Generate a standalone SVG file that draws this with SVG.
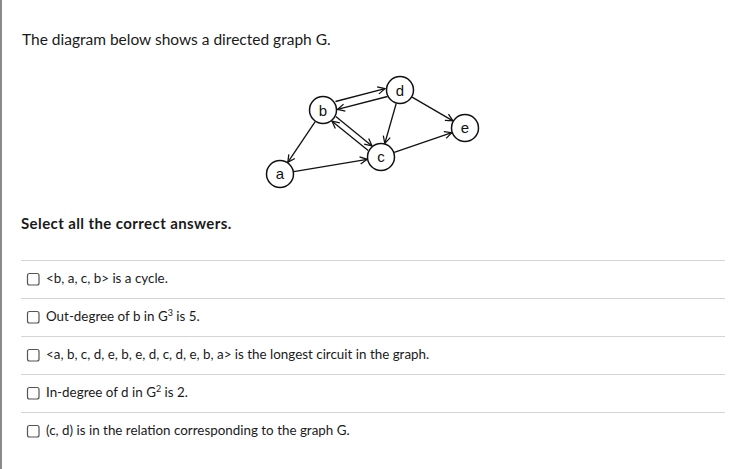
<svg xmlns="http://www.w3.org/2000/svg" width="729" height="469" viewBox="0 0 729 469">
<style>
.t{font-family:Lato,"Open Sans","Liberation Sans",sans-serif;fill:#1a1a1a}
.opt{font-size:13.4px}
.sep{stroke:#d4d4d4;stroke-width:1}
.cb{fill:#fff;stroke:#555;stroke-width:1.2}
.node circle{fill:#fff;stroke:#111;stroke-width:1.5}
.node text{font-family:"Liberation Sans",Arial,sans-serif;font-size:15px;text-anchor:middle;fill:#111}
.edge{stroke:#111;stroke-width:1.3;fill:none;marker-end:url(#arr)}
</style>
<defs>
<marker id="arr" viewBox="0 0 10 10" refX="9" refY="5" markerWidth="9" markerHeight="9" markerUnits="userSpaceOnUse" orient="auto">
<path d="M1,1 L9,5 L1,9" fill="none" stroke="#111" stroke-width="1.4"/>
</marker>
</defs>
<rect x="0" y="0" width="729" height="469" fill="#fff"/>
<rect x="0" y="0" width="2" height="469" fill="#8a8a8a"/>
<text class="t" x="22" y="45" font-size="15.5">The diagram below shows a directed graph G.</text>
<g id="edges">
<line class="edge" x1="335.5" y1="101.5" x2="385" y2="88.6"/>
<line class="edge" x1="387.5" y1="96.5" x2="337.5" y2="109.4"/>
<line class="edge" x1="335.8" y1="116.5" x2="372" y2="145.9"/>
<line class="edge" x1="368.2" y1="150.5" x2="332" y2="121.2"/>
<line class="edge" x1="396.2" y1="103.5" x2="384.8" y2="143.5"/>
<line class="edge" x1="412.1" y1="97.1" x2="452.9" y2="120.9"/>
<line class="edge" x1="394.2" y1="152.4" x2="451.8" y2="132.6"/>
<line class="edge" x1="293.8" y1="171.7" x2="367.2" y2="159.3"/>
<line class="edge" x1="315.2" y1="121.6" x2="287.8" y2="162.4"/>
</g>
<g id="node-b" class="node"><circle cx="323" cy="110" r="13.5"/><text x="323" y="115.5">b</text></g>
<g id="node-d" class="node"><circle cx="400" cy="90" r="13.5"/><text x="400" y="95.5">d</text></g>
<g id="node-c" class="node"><circle cx="381" cy="157" r="13.5"/><text x="381" y="162">c</text></g>
<g id="node-a" class="node"><circle cx="280" cy="174" r="13.5"/><text x="280" y="179">a</text></g>
<g id="node-e" class="node"><circle cx="465" cy="128" r="13.5"/><text x="465" y="133">e</text></g>
<text class="t" x="21" y="229" font-size="15" font-weight="bold" letter-spacing="0.4">Select all the correct answers.</text>
<line class="sep" x1="21" y1="260.5" x2="725" y2="260.5"/>
<line class="sep" x1="21" y1="298.5" x2="725" y2="298.5"/>
<line class="sep" x1="21" y1="336.5" x2="725" y2="336.5"/>
<line class="sep" x1="21" y1="374.5" x2="725" y2="374.5"/>
<line class="sep" x1="21" y1="412.5" x2="725" y2="412.5"/>
<rect class="cb" x="27.5" y="273.5" width="11.5" height="11.5" rx="2"/>
<text class="t opt" x="46" y="283">&lt;b, a, c, b&gt; is a cycle.</text>
<rect class="cb" x="27.5" y="311.5" width="11.5" height="11.5" rx="2"/>
<text class="t opt" x="46" y="321">Out-degree of b in G<tspan dy="-5" font-size="9">3</tspan><tspan dy="5"> is 5.</tspan></text>
<rect class="cb" x="27.5" y="349.5" width="11.5" height="11.5" rx="2"/>
<text class="t opt" x="46" y="359">&lt;a, b, c, d, e, b, e, d, c, d, e, b, a&gt; is the longest circuit in the graph.</text>
<rect class="cb" x="27.5" y="387.5" width="11.5" height="11.5" rx="2"/>
<text class="t opt" x="46" y="397">In-degree of d in G<tspan dy="-5" font-size="9">2</tspan><tspan dy="5"> is 2.</tspan></text>
<rect class="cb" x="27.5" y="425.5" width="11.5" height="11.5" rx="2"/>
<text class="t opt" x="46" y="435">(c, d) is in the relation corresponding to the graph G.</text>
</svg>
